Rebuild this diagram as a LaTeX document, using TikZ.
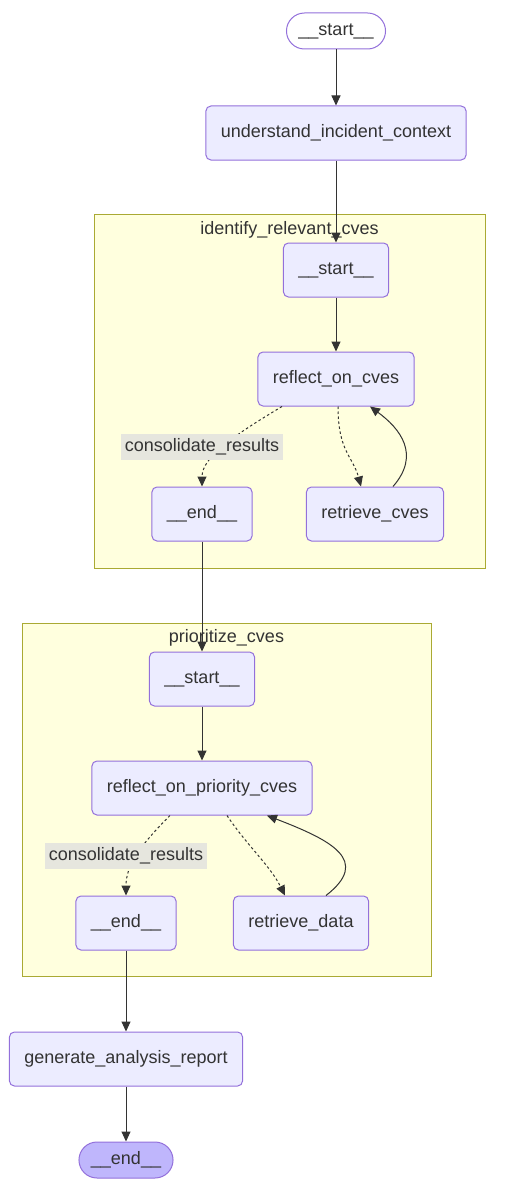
\documentclass[tikz,border=0pt]{standalone}
\usepackage{fontspec}
\setmainfont{Liberation Sans}
\usetikzlibrary{arrows.meta,positioning}
\definecolor{nodefill}{HTML}{ECECFF}
\definecolor{nodeline}{HTML}{9370DB}
\definecolor{endfill}{HTML}{BFB6FC}
\definecolor{clusterfill}{HTML}{FFFFDE}
\definecolor{clusterline}{HTML}{AAAA33}
\definecolor{edgecol}{HTML}{333333}
\definecolor{labelfill}{HTML}{E6E6DE}

\begin{document}
\begin{tikzpicture}[x=1pt,y=-1pt,
  -{Triangle[length=10pt,width=9pt]},line width=1pt,color=edgecol,
  font=\fontsize{18}{21}\selectfont,
  main node/.style={rectangle,rounded corners=5pt,fill=nodefill,draw=nodeline,
    minimum height=54pt,inner xsep=15pt},
  term node/.style={main node,rounded corners=18pt,minimum height=36pt,inner xsep=12pt},
  cluster/.style={-,fill=clusterfill,draw=clusterline},
  edge label/.style={fill=labelfill,inner xsep=4pt,minimum height=26pt},
  flow/.style={dash pattern=on 2.5pt off 2.5pt}]
  \useasboundingbox (0,0) rectangle (515,1196);

  \draw[cluster] (94,214) rectangle (485,568);
  \draw[cluster] (22,623) rectangle (431,976);
  \node (t1) at (289.5,230) {identify\_relevant\_cves};
  \node (t2) at (226.5,638) {prioritize\_cves};

  \node[term node,fill=white] (s) at (336,31) {\_\_start\_\_};
  \node[main node] (ctx) at (336,133) {understand\_incident\_context};

  % identify_relevant_cves
  \node[main node] (s1) at (336,270) {\_\_start\_\_};
  \node[main node] (r1) at (336,379) {reflect\_on\_cves};
  \node[main node] (e1) at (202,514) {\_\_end\_\_};
  \node[main node] (rc) at (375,514) {retrieve\_cves};

  % prioritize_cves
  \node[main node] (s2) at (202,679) {\_\_start\_\_};
  \node[main node] (r2) at (202,788) {reflect\_on\_priority\_cves};
  \node[main node] (e2) at (126,923) {\_\_end\_\_};
  \node[main node] (rd) at (301,923) {retrieve\_data};

  \node[main node] (gen) at (126,1059) {generate\_analysis\_report};
  \node[term node,fill=endfill] (end) at (126,1160) {\_\_end\_\_};

  \path (s) edge (ctx)
    (ctx) edge (s1)
    (s1) edge (r1)
    (e1) edge (s2)
    (s2) edge (r2)
    (e2) edge (gen)
    (gen) edge (end);

  \draw[flow] ([xshift=-54pt]r1.south) .. controls +(-45,27) and +(0,-30) .. (e1.north);
  \draw[flow] ([xshift=2pt]r1.south) .. controls +(0,45) and +(-8,-30) .. ([xshift=-14pt]rc.north);
  \draw ([xshift=18pt]rc.north) .. controls +(28,-32) and +(30,22) .. ([xshift=34pt]r1.south);
  \node[edge label] (l1) at (202,447) {consolidate\_results};

  \draw[flow] ([xshift=-32pt]r2.south) .. controls +(-30,30) and +(0,-30) .. (e2.north);
  \draw[flow] ([xshift=25pt]r2.south) .. controls +(20,30) and +(-15,-30) .. ([xshift=-16pt]rd.north);
  \draw ([xshift=25pt]rd.north) .. controls +(45,-35) and +(65,25) .. ([xshift=65pt]r2.south);
  \node[edge label] (l2) at (126,856) {consolidate\_results};
\end{tikzpicture}
\end{document}
